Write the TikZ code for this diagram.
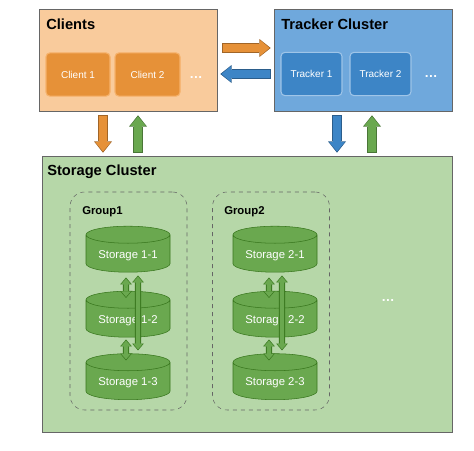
\documentclass[tikz,border=0pt]{standalone}
\usepackage{fontspec}
\setmainfont{Liberation Sans}
\usetikzlibrary{shapes.geometric,arrows.meta,calc}
\colorlet{penColor}{black!60}
\definecolor{clientBg}{HTML}{F9CB9C}
\definecolor{clientFill}{HTML}{E69138}
\definecolor{clientLine}{HTML}{F6B26B}
\definecolor{trackerBg}{HTML}{6FA8DC}
\definecolor{trackerFill}{HTML}{3D85C6}
\definecolor{trackerLine}{HTML}{9FC5E8}
\definecolor{storageBg}{HTML}{B6D7A8}
\definecolor{storageFill}{HTML}{6AA84F}
\definecolor{storageLine}{HTML}{38761D}
\tikzset{
  cluster/.style={draw=penColor, thin},
  title/.style={font=\fontsize{11}{13}\selectfont\bfseries, anchor=base west, inner sep=0pt},
  member/.style={rounded corners=3pt, draw=#1, line width=.8pt, text=white,
    font=\fontsize{7.5}{9}\selectfont, minimum height=32.5pt},
  dots/.style={text=white, font=\fontsize{10}{11}\selectfont\bfseries, anchor=base},
  group/.style={draw=black!60, dashed, rounded corners=11pt,
    minimum width=87.75pt, minimum height=163.5pt},
  storage/.style={cylinder, shape border rotate=90, aspect=0.25, draw=storageLine,
    fill=storageFill, text=white, font=\fontsize{8.5}{10}\selectfont,
    minimum width=63pt, minimum height=34.5pt},
  bigarrow/.style={draw=#1, line width=5.5pt, -{Triangle[length=7pt,width=11.5pt,line width=0pt]},
    shorten >=.9pt, shorten <=.6pt,
    preaction={draw=#1!70!black, line width=7pt, -{Triangle[length=8.5pt,width=13.5pt,line width=0pt]},
      shorten >=0pt, shorten <=0pt}},
  linkarrow/.style={draw=storageFill, line width=3.3pt,
    {Triangle[length=4.2pt,width=7.3pt,line width=0pt]}-{Triangle[length=4.2pt,width=7.3pt,line width=0pt]},
    shorten >=.8pt, shorten <=.8pt,
    preaction={draw=storageLine, line width=4.6pt,
      {Triangle[length=5.2pt,width=8.8pt,line width=0pt]}-{Triangle[length=5.2pt,width=8.8pt,line width=0pt]},
      shorten >=0pt, shorten <=0pt}},
}
\begin{document}
\begin{tikzpicture}[x=0.75pt, y=-0.75pt]
  \useasboundingbox (0,0) rectangle (474,450);
  % clients
  \node[cluster, fill=clientBg, minimum width=133.5pt, minimum height=76.5pt] (clients) at (128,60) {};
  \node[title] (clientstitle) at (46,29) {Clients};
  \node[member=clientLine, fill=clientFill, minimum width=48pt] (client1) at (78,74.5) {Client 1};
  \node[member=clientLine, fill=clientFill, minimum width=48.75pt] (client2) at (147.5,74.5) {Client 2};
  \node[dots] (cdots) at (196,78) {\dots};
  % trackers
  \node[cluster, fill=trackerBg, minimum width=133.5pt, minimum height=76.5pt] (tracker) at (363,60) {};
  \node[title] (trackertitle) at (281,29) {Tracker Cluster};
  \node[member=trackerLine, fill=trackerFill, minimum width=45.75pt] (tracker1) at (311.5,74) {Tracker 1};
  \node[member=trackerLine, fill=trackerFill, minimum width=45.75pt] (tracker2) at (380.5,74) {Tracker 2};
  \node[dots] (tdots) at (431,77) {\dots};
  % storage
  \node[cluster, fill=storageBg, minimum width=307.5pt, minimum height=207pt] (storage) at (247,294) {};
  \node[title] (storagetitle) at (47,175) {Storage Cluster};
  \node[group] (group1) at (128.5,301) {};
  \node[group] (group2) at (271,301) {};
  \node[title, font=\fontsize{8.5}{10}\selectfont\bfseries] (group1title) at (82,214) {Group1};
  \node[title, font=\fontsize{8.5}{10}\selectfont\bfseries] (group2title) at (224,214) {Group2};
  \node[storage] (s11) at (128,255.5) {Storage 1-1};
  \node[storage] (s12) at (128,320.5) {Storage 1-2};
  \node[storage] (s13) at (128,383) {Storage 1-3};
  \node[storage] (s21) at (275,255.5) {Storage 2-1};
  \node[storage] (s22) at (275,320.5) {Storage 2-2};
  \node[storage] (s23) at (275,383) {Storage 2-3};
  \node[dots] (sdots) at (388,301) {\dots};
  % arrows between clusters
  \draw[bigarrow=clientFill] ($(clients.east)+(5,-12)$) -- ($(tracker.west)+(-3,-12)$);
  \draw[bigarrow=trackerFill] ($(tracker.west)+(-3,14)$) -- ($(clients.east)+(3,14)$);
  \draw[bigarrow=clientFill] ($(clients.south)+(-25,4)$) -- ($(clients.south |- storage.north)+(-25,-3)$);
  \draw[bigarrow=storageFill] ($(clients.south |- storage.north)+(10,-3)$) -- ($(clients.south)+(10,4)$);
  \draw[bigarrow=trackerFill] ($(tracker.south)+(-26,4)$) -- ($(tracker.south |- storage.north)+(-26,-3)$);
  \draw[bigarrow=storageFill] ($(tracker.south |- storage.north)+(9,-3)$) -- ($(tracker.south)+(9,4)$);
  % sync inside groups
  \draw[linkarrow] ($(s11.south)+(-2,5)$) -- ($(s12.north)+(-2,7)$);
  \draw[linkarrow] ($(s12.south)+(-2,2)$) -- ($(s13.north)+(-2,7)$);
  \draw[linkarrow] ($(s11.south)+(10,3)$) -- ($(s13.north)+(10,-3)$);
  \draw[linkarrow] ($(s21.south)+(-6,5)$) -- ($(s22.north)+(-6,7)$);
  \draw[linkarrow] ($(s22.south)+(-6,2)$) -- ($(s23.north)+(-6,7)$);
  \draw[linkarrow] ($(s21.south)+(7,3)$) -- ($(s23.north)+(7,-3)$);
\end{tikzpicture}
\end{document}
